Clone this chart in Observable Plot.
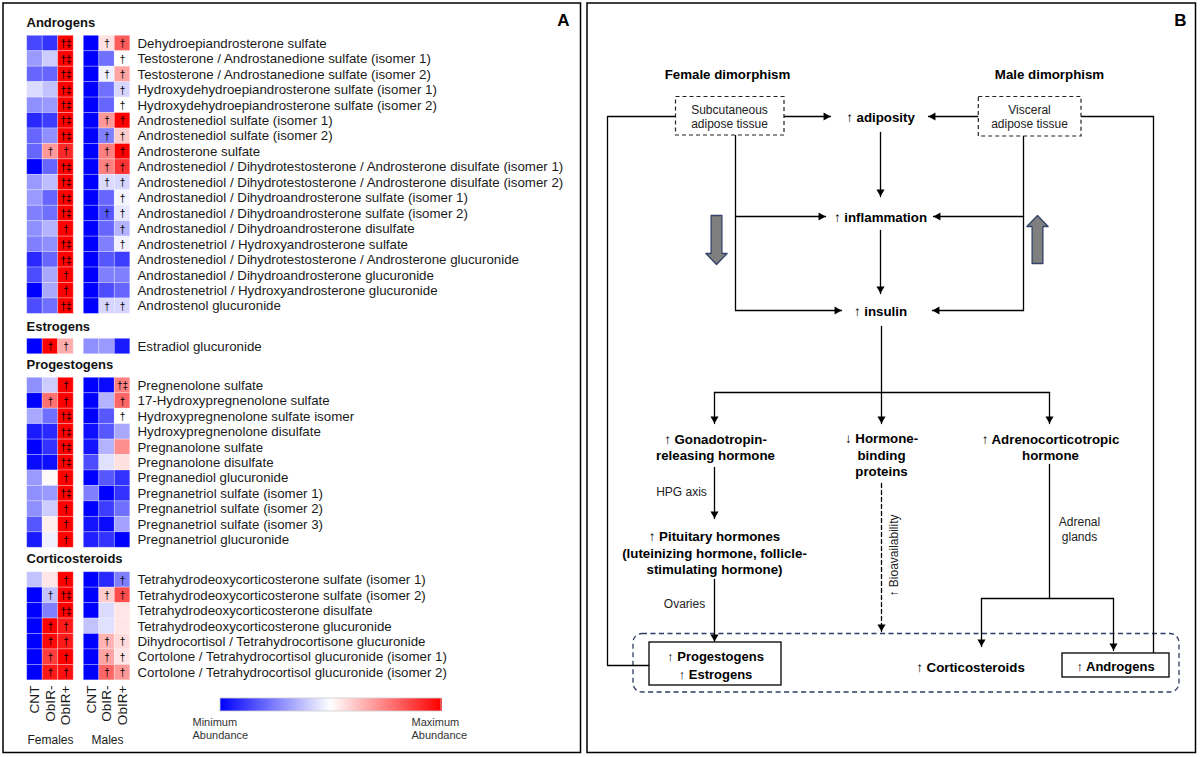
<!DOCTYPE html>
<html>
<head>
<meta charset="utf-8">
<script src="https://cdn.jsdelivr.net/npm/d3@7"></script>
<script src="https://cdn.jsdelivr.net/npm/@observablehq/plot@0.6"></script>
<style>
  html, body { margin: 0; padding: 0; background: #fff; }
  #chart { width: 1200px; height: 757px; }
</style>
</head>
<body>
<div id="chart"></div>
<script>
// ---------------- DATA ----------------
const colLabels = ["CNT", "ObIR-", "ObIR+"];
const sexLabels = ["Females", "Males"];

const androgenNames = [
  "Dehydroepiandrosterone sulfate",
  "Testosterone / Androstanedione sulfate (isomer 1)",
  "Testosterone / Androstanedione sulfate (isomer 2)",
  "Hydroxydehydroepiandrosterone sulfate (isomer 1)",
  "Hydroxydehydroepiandrosterone sulfate (isomer 2)",
  "Androstenediol sulfate (isomer 1)",
  "Androstenediol sulfate (isomer 2)",
  "Androsterone sulfate",
  "Androstenediol / Dihydrotestosterone / Androsterone disulfate (isomer 1)",
  "Androstenediol / Dihydrotestosterone / Androsterone disulfate (isomer 2)",
  "Androstanediol / Dihydroandrosterone sulfate (isomer 1)",
  "Androstanediol / Dihydroandrosterone sulfate (isomer 2)",
  "Androstanediol / Dihydroandrosterone disulfate",
  "Androstenetriol / Hydroxyandrosterone sulfate",
  "Androstenediol / Dihydrotestosterone / Androsterone glucuronide",
  "Androstanediol / Dihydroandrosterone glucuronide",
  "Androstenetriol / Hydroxyandrosterone glucuronide",
  "Androstenol glucuronide"
];
// relative abundance: 0 = minimum (blue), 0.5 = mid (white), 1 = maximum (red)
// columns: F-CNT, F-ObIR-, F-ObIR+, M-CNT, M-ObIR-, M-ObIR+
const androgenValues = [
  [0.14, 0.10, 1.00, 0.00, 0.56, 0.82],
  [0.30, 0.40, 1.00, 0.00, 0.22, 0.50],
  [0.20, 0.20, 1.00, 0.00, 0.47, 0.68],
  [0.43, 0.38, 1.00, 0.00, 0.22, 0.42],
  [0.28, 0.30, 1.00, 0.00, 0.20, 0.50],
  [0.08, 0.12, 1.00, 0.00, 0.70, 1.00],
  [0.20, 0.28, 1.00, 0.00, 0.25, 0.60],
  [0.20, 0.70, 0.92, 0.00, 0.75, 1.00],
  [0.00, 0.20, 1.00, 0.00, 0.75, 0.90],
  [0.30, 0.37, 1.00, 0.00, 0.43, 0.42],
  [0.30, 0.20, 1.00, 0.00, 0.20, 0.48],
  [0.25, 0.22, 1.00, 0.00, 0.17, 0.45],
  [0.28, 0.35, 1.00, 0.00, 0.20, 0.35],
  [0.25, 0.28, 1.00, 0.00, 0.25, 0.47],
  [0.08, 0.20, 1.00, 0.00, 0.17, 0.12],
  [0.15, 0.33, 1.00, 0.00, 0.25, 0.25],
  [0.00, 0.33, 1.00, 0.00, 0.15, 0.20],
  [0.15, 0.22, 1.00, 0.00, 0.42, 0.42]
];
const androgenSig = [
  ["", "", "†‡", "", "†", "†"],
  ["", "", "†‡", "", "", "†"],
  ["", "", "†‡", "", "†", "†"],
  ["", "", "†‡", "", "", "†"],
  ["", "", "†‡", "", "", "†"],
  ["", "", "†‡", "", "†", "†"],
  ["", "", "†‡", "", "†", "†"],
  ["", "†", "†", "", "†", "†"],
  ["", "", "†‡", "", "†", "†"],
  ["", "", "†‡", "", "†", "†"],
  ["", "", "†‡", "", "", "†"],
  ["", "", "†‡", "", "†", "†"],
  ["", "", "†", "", "", "†"],
  ["", "", "†‡", "", "", "†"],
  ["", "", "†‡", "", "", ""],
  ["", "", "†", "", "", ""],
  ["", "", "†", "", "", ""],
  ["", "", "†‡", "", "†", "†"]
];

const estrogenNames = ["Estradiol glucuronide"];
const estrogenValues = [[0.00, 1.00, 0.66, 0.28, 0.30, 0.05]];
const estrogenSig = [["", "†", "†", "", "", ""]];

const progestogenNames = [
  "Pregnenolone sulfate",
  "17-Hydroxypregnenolone sulfate",
  "Hydroxypregnenolone sulfate isomer",
  "Hydroxypregnenolone disulfate",
  "Pregnanolone sulfate",
  "Pregnanolone disulfate",
  "Pregnanediol glucuronide",
  "Pregnanetriol sulfate (isomer 1)",
  "Pregnanetriol sulfate (isomer 2)",
  "Pregnanetriol sulfate (isomer 3)",
  "Pregnanetriol glucuronide"
];
const progestogenValues = [
  [0.28, 0.40, 1.00, 0.00, 0.02, 0.75],
  [0.00, 0.78, 1.00, 0.00, 0.35, 0.80],
  [0.33, 0.22, 1.00, 0.00, 0.17, 0.50],
  [0.05, 0.08, 1.00, 0.03, 0.17, 0.33],
  [0.00, 0.10, 1.00, 0.04, 0.35, 0.72],
  [0.02, 0.03, 1.00, 0.15, 0.44, 0.56],
  [0.30, 0.51, 1.00, 0.00, 0.17, 0.10],
  [0.28, 0.30, 1.00, 0.25, 0.00, 0.10],
  [0.28, 0.40, 1.00, 0.00, 0.12, 0.22],
  [0.17, 0.53, 1.00, 0.04, 0.02, 0.32],
  [0.05, 0.47, 1.00, 0.06, 0.10, 0.00]
];
const progestogenSig = [
  ["", "", "†", "", "", "†‡"],
  ["", "†", "†", "", "", "†"],
  ["", "", "†‡", "", "", "†"],
  ["", "", "†‡", "", "", ""],
  ["", "", "†‡", "", "", ""],
  ["", "", "†‡", "", "", ""],
  ["", "", "†", "", "", ""],
  ["", "", "†‡", "", "", ""],
  ["", "", "†", "", "", ""],
  ["", "", "†", "", "", ""],
  ["", "", "†", "", "", ""]
];

const corticoNames = [
  "Tetrahydrodeoxycorticosterone sulfate (isomer 1)",
  "Tetrahydrodeoxycorticosterone sulfate (isomer 2)",
  "Tetrahydrodeoxycorticosterone disulfate",
  "Tetrahydrodeoxycorticosterone glucuronide",
  "Dihydrocortisol / Tetrahydrocortisone glucuronide",
  "Cortolone / Tetrahydrocortisol glucuronide (isomer 1)",
  "Cortolone / Tetrahydrocortisol glucuronide (isomer 2)"
];
const corticoValues = [
  [0.38, 0.55, 1.00, 0.00, 0.08, 0.25],
  [0.00, 0.38, 1.00, 0.00, 0.60, 0.85],
  [0.00, 0.25, 1.00, 0.00, 0.43, 0.55],
  [0.00, 1.00, 0.95, 0.38, 0.44, 0.55],
  [0.00, 0.98, 0.95, 0.00, 0.65, 0.57],
  [0.00, 0.88, 1.00, 0.00, 0.68, 0.55],
  [0.00, 0.95, 0.97, 0.00, 0.80, 0.70]
];
const corticoSig = [
  ["", "", "†", "", "", "†"],
  ["", "†", "†‡", "", "†", "†"],
  ["", "", "†‡", "", "", ""],
  ["", "†", "†", "", "", ""],
  ["", "†", "†", "", "†", "†"],
  ["", "†", "†", "", "†", "†"],
  ["", "†", "†", "", "†", "†"]
];

const sectionTitles = ["Androgens", "Estrogens", "Progestogens", "Corticosteroids"];
const legendLabels = ["Minimum\nAbundance", "Maximum\nAbundance"];
const panelLabels = ["A", "B"];

// Panel B diagram texts
const boldTexts = [
  "Female dimorphism", "Male dimorphism", "↑ adiposity", "↑ inflammation", "↑ insulin",
  "↑ Gonadotropin-\nreleasing hormone", "↓ Hormone-\nbinding\nproteins", "↑ Adrenocorticotropic\nhormone",
  "↑ Pituitary hormones\n(luteinizing hormone, follicle-\nstimulating hormone)",
  "↑ Corticosteroids"
];
const boxedTexts = ["↑ Progestogens\n↑ Estrogens", "↑ Androgens"];
const tissueTexts = ["Subcutaneous\nadipose tissue", "Visceral\nadipose tissue"];
const smallTexts = ["HPG axis", "Ovaries", "Adrenal\nglands"];
const rotatedText = "↑ Bioavailability";

// ---------------- LAYOUT ----------------
const cellW = 15.5, cellH = 15.45;
const colX0 = [26.7, 26.7 + cellW, 26.7 + 2 * cellW, 83.3, 83.3 + cellW, 83.3 + 2 * cellW];
const sectionTop = [35.3, 338.3, 377.3, 571.7];
const sectionTitleY = [22, 326, 364, 558];
const labelX = 137;

const sections = [
  {names: androgenNames, values: androgenValues, sig: androgenSig},
  {names: estrogenNames, values: estrogenValues, sig: estrogenSig},
  {names: progestogenNames, values: progestogenValues, sig: progestogenSig},
  {names: corticoNames, values: corticoValues, sig: corticoSig}
];

const cells = [], rowLabels = [];
sections.forEach((s, si) => {
  s.names.forEach((name, ri) => {
    const y1 = sectionTop[si] + ri * cellH;
    rowLabels.push({name, x: labelX, y: y1 + cellH / 2});
    s.values[ri].forEach((v, ci) => {
      cells.push({v, sig: s.sig[ri][ci], x1: colX0[ci], x2: colX0[ci] + cellW, y1, y2: y1 + cellH});
    });
  });
});
const titles = sectionTitles.map((t, i) => ({t, x: 26, y: sectionTitleY[i]}));
const colText = [];
colLabels.forEach((c, i) => { colText.push({t: c, x: colX0[i] + cellW / 2}); colText.push({t: c, x: colX0[i + 3] + cellW / 2}); });
const sexText = sexLabels.map((t, i) => ({t, x: i === 0 ? 50 : 107}));

// legend gradient
const lgX0 = 220, lgX1 = 441, lgN = 221;
const legendStops = d3.range(lgN).map(i => ({v: i / (lgN - 1), x1: lgX0 + i * (lgX1 - lgX0) / lgN, x2: lgX0 + (i + 1) * (lgX1 - lgX0) / lgN + 0.6}));

// diagram positions
const boldPos = [[727, 73], [1049, 73], [880, 116], [880, 216], [880, 310], [715, 446], [881, 454], [1050, 446], [714, 552], [970, 666]];
const boxedPos = [[715, 664], [1115, 665]];
const tissuePos = [[729, 116], [1029, 116]];
const smallPos = [[681, 491], [684, 603], [1079, 528]];

const connectors = [
  [[784, 116], [830, 116]],
  [[978, 116], [928, 116]],
  [[880, 132], [880, 196]],
  [[735, 135], [735, 310]],
  [[735, 216], [825, 216]],
  [[735, 310], [841, 310]],
  [[1023, 136], [1023, 310]],
  [[1023, 216], [933, 216]],
  [[1023, 310], [932, 310]],
  [[880, 230], [880, 293]],
  [[881, 326], [881, 392]],
  [[714, 392], [1049, 392]],
  [[714, 392], [714, 423]],
  [[881, 392], [881, 423]],
  [[1049, 392], [1049, 423]],
  [[714, 467], [714, 518]],
  [[714, 579], [714, 641]],
  [[1049, 464], [1049, 598]],
  [[981, 598], [1113, 598]],
  [[981, 598], [981, 646]],
  [[1113, 598], [1113, 650]],
  [[676, 116], [607, 116], [607, 665], [649, 665]],
  [[1081, 116], [1153, 116], [1153, 653]]
];
const headIdx = [0, 1, 2, 4, 5, 7, 8, 9, 12, 13, 14, 15, 16, 19, 20];
const dashedConnector = [[881, 483], [881, 631]];

function headOf(seg) {
  const [a, b] = seg.slice(-2);
  const dx = b[0] - a[0], dy = b[1] - a[1], L = Math.hypot(dx, dy);
  const off = 4.6;
  return {x: b[0] - dx / L * off, y: b[1] - dy / L * off, rot: Math.atan2(dx, -dy) * 180 / Math.PI};
}
const heads = headIdx.map(i => headOf(connectors[i])).concat([headOf(dashedConnector)]);
const lineData = connectors.flatMap((seg, k) => seg.map(p => ({x: p[0], y: p[1], k})));
const dashedData = dashedConnector.map(p => ({x: p[0], y: p[1]}));

// block arrows (down: female, up: male)
const blockArrows = [
  {cx: 716, dir: 1, y0: 215, y1: 264},
  {cx: 1037, dir: -1, y0: 263, y1: 215}
].flatMap((a, k) => {
  const sw = 5.4, hw = 10.6, hl = 11;
  const base = a.y1 - a.dir * hl;
  const pts = [[a.cx - sw, a.y0], [a.cx - sw, base], [a.cx - hw, base], [a.cx, a.y1], [a.cx + hw, base], [a.cx + sw, base], [a.cx + sw, a.y0], [a.cx - sw, a.y0]];
  return pts.map(p => ({x: p[0], y: p[1], k}));
});

const boxes = [
  {x1: 649, x2: 781, y1: 642, y2: 685},
  {x1: 1062, x2: 1169, y1: 653, y2: 677}
];
const tissueBoxes = [
  {x1: 675.5, x2: 784, y1: 96.5, y2: 135},
  {x1: 978.3, x2: 1081, y1: 96.5, y2: 136}
];
const panels = [
  {x1: 3, x2: 580.5, y1: 3, y2: 752.5},
  {x1: 587, x2: 1195.5, y1: 3, y2: 752.5}
];

const FONT = "Liberation Sans, Arial, Helvetica, sans-serif";

const chart = Plot.plot({
  width: 1200, height: 757, margin: 0,
  x: {domain: [0, 1200], range: [0, 1200], axis: null},
  y: {domain: [0, 757], range: [0, 757], axis: null},
  color: {type: "linear", domain: [0, 0.5, 1], range: ["#0000ff", "#ffffff", "#ff0000"], interpolate: "rgb"},
  style: {fontFamily: FONT, background: "#fff", color: "#000"},
  marks: [
    // panel frames
    Plot.rect(panels, {x1: "x1", x2: "x2", y1: "y1", y2: "y2", fill: "none", stroke: "#000", strokeWidth: 1.5}),
    Plot.text(panelLabels, {x: [563, 1180], y: [20, 20], text: d => d, fontWeight: "bold", fontSize: 17}),

    // ---------- Panel A: heatmap ----------
    Plot.rect(cells, {x1: "x1", x2: "x2", y1: "y1", y2: "y2", fill: "v", stroke: "#ffffff", strokeOpacity: 0.35, strokeWidth: 0.8}),
    Plot.text(cells.filter(d => d.sig), {x: d => (d.x1 + d.x2) / 2, y: d => (d.y1 + d.y2) / 2 + 0.5, text: "sig", fontSize: 10, fill: "#000"}),
    Plot.text(titles, {x: "x", y: "y", text: "t", textAnchor: "start", fontWeight: "bold", fontSize: 13, fill: "#111"}),
    Plot.text(rowLabels, {x: "x", y: "y", text: "name", textAnchor: "start", fontSize: 13.3, fill: "#1a1a1a"}),
    Plot.text(colText, {x: "x", y: 685, text: "t", rotate: -90, textAnchor: "end", fontSize: 13.6, fill: "#1a1a1a"}),
    Plot.text(sexText, {x: "x", y: 740, text: "t", fontSize: 12, fill: "#1a1a1a"}),

    // legend
    Plot.rect(legendStops, {x1: "x1", x2: "x2", y1: 698, y2: 711, fill: "v", shapeRendering: "crispEdges"}),
    Plot.rect([0], {x1: lgX0, x2: lgX1, y1: 698, y2: 711, fill: "none", stroke: "#ccc", strokeWidth: 0.8}),
    Plot.text(legendLabels, {x: [192, 411], y: [728, 728], text: d => d, textAnchor: "start", fontSize: 11, lineHeight: 1.2, fill: "#333"}),

    // ---------- Panel B: diagram ----------
    Plot.rect([{x1: 633, x2: 1179, y1: 633.5, y2: 692}], {x1: "x1", x2: "x2", y1: "y1", y2: "y2", rx: 9, ry: 9, fill: "none", stroke: "#2f3b63", strokeWidth: 1.3, strokeDasharray: "5,3.5"}),
    Plot.line(lineData, {x: "x", y: "y", z: "k", stroke: "#000", strokeWidth: 1.3, curve: "linear"}),
    Plot.line(dashedData, {x: "x", y: "y", stroke: "#000", strokeWidth: 1.3, strokeDasharray: "4,3"}),
    Plot.dot(heads, {x: "x", y: "y", rotate: "rot", symbol: "triangle", r: 3, fill: "#000", stroke: "none"}),
    Plot.line(blockArrows, {x: "x", y: "y", z: "k", fill: "#7f7f7f", stroke: "#34436a", strokeWidth: 1.3, curve: "linear"}),

    Plot.rect(tissueBoxes, {x1: "x1", x2: "x2", y1: "y1", y2: "y2", fill: "#fff", stroke: "#222", strokeWidth: 1.2, strokeDasharray: "4,3"}),
    Plot.text(tissueTexts, {x: tissuePos.map(p => p[0]), y: tissuePos.map(p => p[1]), text: d => d, fontSize: 12, lineHeight: 1.17, fill: "#222"}),
    Plot.rect(boxes, {x1: "x1", x2: "x2", y1: "y1", y2: "y2", fill: "#fff", stroke: "#000", strokeWidth: 1.3}),
    Plot.text(boxedTexts, {x: boxedPos.map(p => p[0]), y: boxedPos.map(p => p[1]), text: d => d, fontSize: 13, fontWeight: "bold", lineHeight: 1.38, fill: "#000"}),

    Plot.text(boldTexts, {x: boldPos.map(p => p[0]), y: boldPos.map(p => p[1]), text: d => d, fontSize: 13.3, fontWeight: "bold", lineHeight: 1.22, fill: "#000"}),
    Plot.text(smallTexts, {x: smallPos.map(p => p[0]), y: smallPos.map(p => p[1]), text: d => d, fontSize: 12, lineHeight: 1.25, fill: "#222"}),
    Plot.text([rotatedText], {x: 894, y: 555, text: d => d, rotate: -90, fontSize: 12, fill: "#222"})
  ]
});
document.getElementById("chart").appendChild(chart);
</script>
</body>
</html>
